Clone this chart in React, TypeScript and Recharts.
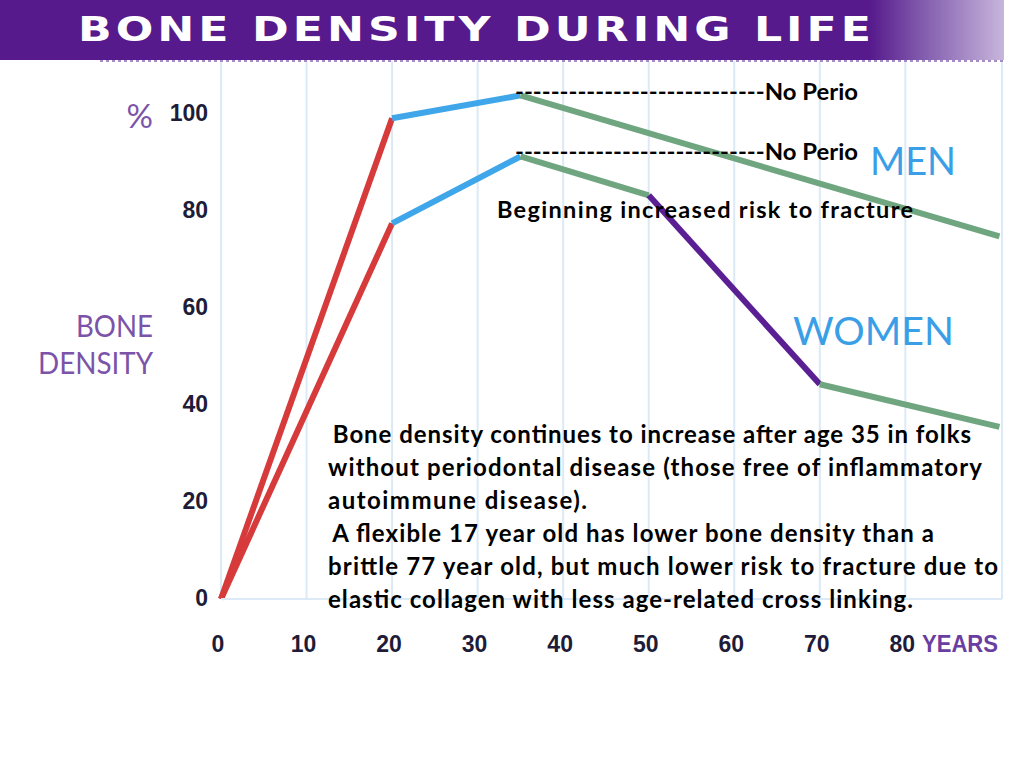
import React from 'react';
import { LineChart, Line, XAxis, YAxis, CartesianGrid } from 'recharts';

// ---- data ----
const menAges = [0, 20, 35, 91];
const menDensity = [0, 99.2, 103.9, 74.8];
const menSegmentColors = ['#d63a3a', '#3fa6ea', '#6fa680'];

const womenAges = [0, 20, 35, 50, 70, 91];
const womenDensity = [0, 77.5, 91.3, 83.3, 44.3, 35.5];
const womenSegmentColors = ['#d63a3a', '#3fa6ea', '#6fa680', '#5a1f93', '#6fa680'];

const xTicks = [0, 10, 20, 30, 40, 50, 60, 70, 80];
const yTicks = [0, 20, 40, 60, 80, 100];

const title = 'BONE DENSITY DURING LIFE';
const noPerioLabel = '----------------------------No Perio';
const fractureLabel = 'Beginning increased risk to fracture';
const noteLines = [
  ' Bone density continues to increase after age 35 in folks',
  'without periodontal disease (those free of inflammatory',
  'autoimmune disease).',
  ' A flexible 17 year old has lower bone density than a',
  'brittle 77 year old, but much lower risk to fracture due to',
  'elastic collagen with less age-related cross linking.',
];

// build two-point segments from the series
const buildSegments = (ages: number[], vals: number[], colors: string[]) =>
  colors.map((c, i) => ({
    color: c,
    data: [
      { age: ages[i], density: vals[i] },
      { age: ages[i + 1], density: vals[i + 1] },
    ],
  }));

const menSegments = buildSegments(menAges, menDensity, menSegmentColors);
const womenSegments = buildSegments(womenAges, womenDensity, womenSegmentColors);

const tickFont = '"Liberation Sans", Arial, sans-serif';
const textFont = 'Lato, "Open Sans", sans-serif';

const XTick = (props: any) => {
  const { x, y, payload } = props;
  return (
    <text x={x - 3} y={y} textAnchor="middle" fontFamily={tickFont} fontWeight={700} fontSize={23} fill="#1e1c38">
      {payload.value}
    </text>
  );
};

const YTick = (props: any) => {
  const { x, y, payload } = props;
  return (
    <text x={x} y={y + 7} textAnchor="end" fontFamily={tickFont} fontWeight={700} fontSize={23} fill="#1e1c38">
      {payload.value}
    </text>
  );
};

const noteWidths = [645, 654, 259, 608, 670, 585];
const noteStarts = [326, 328, 328, 326, 328, 328];

export default function App() {
  return (
    <div style={{ position: 'absolute', left: 0, top: 0, width: 1024, height: 768, background: '#fff' }}>
      <LineChart
        width={1024}
        height={768}
        margin={{ top: 61, right: 22, bottom: 109, left: 0 }}
      >
        <CartesianGrid horizontal={false} vertical stroke="#dce9f6" strokeWidth={2} />
        <XAxis
          type="number"
          dataKey="age"
          domain={[0, 91.3]}
          ticks={xTicks}
          allowDuplicatedCategory={false}
          axisLine={{ stroke: '#dce9f6', strokeWidth: 2 }}
          tickLine={false}
          tickSize={0}
          tickMargin={53}
          height={60}
          tick={<XTick />}
        />
        <YAxis
          type="number"
          domain={[0, 111]}
          ticks={yTicks}
          axisLine={false}
          tickLine={false}
          tickSize={0}
          tickMargin={13}
          width={221}
          tick={<YTick />}
        />
        {menSegments.map((s, i) => (
          <Line
            key={'m' + i}
            data={s.data}
            dataKey="density"
            type="linear"
            stroke={s.color}
            strokeWidth={6}
            dot={false}
            activeDot={false}
            isAnimationActive={false}
          />
        ))}
        {womenSegments.map((s, i) => (
          <Line
            key={'w' + i}
            data={s.data}
            dataKey="density"
            type="linear"
            stroke={s.color}
            strokeWidth={6}
            dot={false}
            activeDot={false}
            isAnimationActive={false}
          />
        ))}
      </LineChart>

      <svg
        width={1024}
        height={768}
        style={{ position: 'absolute', left: 0, top: 0, pointerEvents: 'none' }}
      >
        <defs>
          <linearGradient id="fade" x1="0" x2="1" y1="0" y2="0">
            <stop offset="0" stopColor="#561a8c" />
            <stop offset="0.35" stopColor="#7d55aa" />
            <stop offset="1" stopColor="#c7b6dc" />
          </linearGradient>
        </defs>
        <rect x={0} y={0} width={1004} height={60} fill="#561a8c" />
        <rect x={870} y={0} width={134} height={60} fill="url(#fade)" />
        <line x1={100} y1={61} x2={1004} y2={61} stroke="#a48cc6" strokeWidth={2} strokeDasharray="3 3" />
        <text
          x={78}
          y={41}
          textLength={797}
          lengthAdjust="spacingAndGlyphs"
          letterSpacing={3}
          fontFamily='"DejaVu Sans", sans-serif'
          fontWeight={700}
          fontSize={33}
          fill="#ffffff"
        >
          {title}
        </text>

        {/* axis captions */}
        <text x={153} y={128} textAnchor="end" fontFamily={textFont} fontSize={33} fill="#7b53a9">%</text>
        <text x={153} y={337} textAnchor="end" textLength={77} lengthAdjust="spacingAndGlyphs" fontFamily={textFont} fontSize={31} fill="#7b53a9">BONE</text>
        <text x={153} y={374} textAnchor="end" textLength={115} lengthAdjust="spacingAndGlyphs" fontFamily={textFont} fontSize={31} fill="#7b53a9">DENSITY</text>
        <text x={922} y={652} textLength={76} lengthAdjust="spacingAndGlyphs" fontFamily={tickFont} fontWeight={700} fontSize={23} fill="#6a3ea0">YEARS</text>

        {/* series captions */}
        <text x={870} y={175} textLength={86} lengthAdjust="spacingAndGlyphs" fontFamily={textFont} fontSize={38} fill="#3a9fe6">MEN</text>
        <text x={793} y={345} textLength={161} lengthAdjust="spacingAndGlyphs" fontFamily={textFont} fontSize={38} fill="#3a9fe6">WOMEN</text>

        {/* annotations */}
        <text x={515} y={100} textLength={343} lengthAdjust="spacingAndGlyphs" fontFamily={textFont} fontWeight={700} fontSize={23} fill="#000">{noPerioLabel}</text>
        <text x={515} y={160} textLength={343} lengthAdjust="spacingAndGlyphs" fontFamily={textFont} fontWeight={700} fontSize={23} fill="#000">{noPerioLabel}</text>
        <text x={497} y={218} textLength={416} lengthAdjust="spacing" fontFamily={textFont} fontWeight={700} fontSize={23.5} fill="#000">{fractureLabel}</text>
        {noteLines.map((t, i) => (
          <text
            key={i}
            x={noteStarts[i]}
            y={443 + i * 33}
            textLength={noteWidths[i]}
            lengthAdjust="spacing"
            fontFamily={textFont}
            fontWeight={700}
            fontSize={24}
            fill="#000"
            style={{ whiteSpace: 'pre' }}
            xmlSpace="preserve"
          >
            {t}
          </text>
        ))}
      </svg>
    </div>
  );
}
